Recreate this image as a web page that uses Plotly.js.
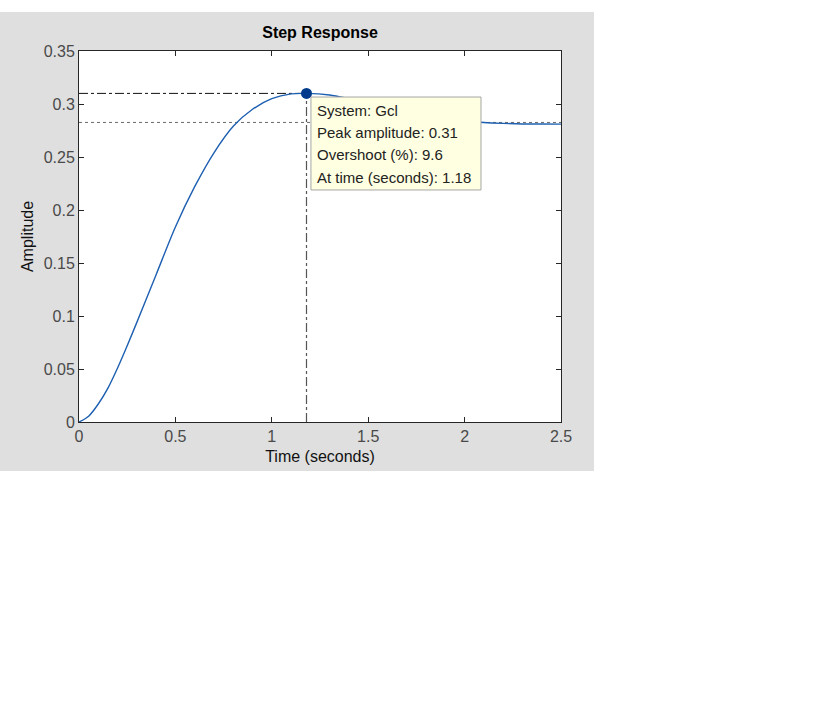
<!DOCTYPE html>
<html>
<head>
<meta charset="utf-8">
<script src="https://cdn.plot.ly/plotly-3.0.1.min.js"></script>
<style>
  html, body { margin: 0; padding: 0; background: #ffffff; }
  #figbg { position: absolute; left: 0; top: 12px; width: 594px; height: 459px; background: #dfdfdf; }
  #chart { position: absolute; left: 0; top: 0; width: 825px; height: 718px; }
</style>
</head>
<body>
<div id="figbg"></div>
<div id="chart"></div>
<script>
// step response
const timeSec = [0, 0.05, 0.1, 0.15, 0.2, 0.25, 0.3, 0.4, 0.5, 0.6, 0.7, 0.8, 0.9, 1.0, 1.1, 1.18,
                 1.3, 1.4, 1.5, 1.6, 1.7, 1.8, 1.9, 2.0, 2.1, 2.2, 2.3, 2.4, 2.5];
const amplitude = [0, 0.0055, 0.017, 0.032, 0.051, 0.072, 0.094, 0.139, 0.184, 0.222, 0.254, 0.279, 0.295, 0.305, 0.3095, 0.310,
                   0.3085, 0.305, 0.301, 0.2965, 0.2925, 0.289, 0.2862, 0.284, 0.2825, 0.2817, 0.2812, 0.2811, 0.2810];

const peakTime = 1.18;
const peakAmp = 0.31;
const finalValue = 0.2826;
const xRange = [0, 2.5];

const tipLines = ['System: Gcl', 'Peak amplitude: 0.31', 'Overshoot (%): 9.6', 'At time (seconds): 1.18'];

const FONT = 'Arial, "Liberation Sans", sans-serif';

const Chart = {
    axis(overrides = {}) {
        return Object.assign({
            showgrid: false,
            zeroline: false,
            showline: true,
            linecolor: '#262626',
            linewidth: 1,
            mirror: 'ticks',
            ticks: 'inside',
            ticklen: 5,
            tickcolor: '#262626',
            tickfont: { family: FONT, size: 16, color: '#4a4a4a' },
        }, overrides);
    },

    traces() {
        return [
            // settling value (dotted)
            { x: xRange, y: [finalValue, finalValue], mode: 'lines',
              line: { color: '#6a6a6a', width: 1, dash: 'dot' }, hoverinfo: 'skip' },
            // peak guides
            { x: [xRange[0], peakTime], y: [peakAmp, peakAmp], mode: 'lines',
              line: { color: '#111111', width: 1, dash: 'dashdot' }, hoverinfo: 'skip' },
            { x: [peakTime, peakTime], y: [0, peakAmp], mode: 'lines',
              line: { color: '#555555', width: 1.2, dash: 'dashdot' }, hoverinfo: 'skip' },
            // response
            { x: timeSec, y: amplitude, mode: 'lines', line: { color: '#1d5fb0', width: 1.4, shape: 'spline', smoothing: 0.8 } },
            // peak marker
            { x: [peakTime], y: [peakAmp], mode: 'markers',
              marker: { color: '#003a8c', size: 11 } },
        ];
    },

    layout() {
        const tipX0 = 1.203, tipX1 = 2.085, tipTop = 0.3066, tipBottom = 0.2189;
        const lineY = [0.2943, 0.2733, 0.2519, 0.2307];
        return {
            width: 825,
            height: 718,
            paper_bgcolor: 'rgba(0,0,0,0)',
            plot_bgcolor: '#ffffff',
            showlegend: false,
            margin: { l: 79, r: 264, t: 51, b: 296 },
            title: {
                text: '<b>Step Response</b>',
                font: { family: FONT, size: 16, color: '#000000' },
                x: 0.5, xref: 'paper', xanchor: 'center',
                y: 1 - 32 / 718, yref: 'container', yanchor: 'middle',
            },
            xaxis: this.axis({
                range: xRange,
                tickvals: [0, 0.5, 1, 1.5, 2, 2.5],
                ticktext: ['0', '0.5', '1', '1.5', '2', '2.5'],
                title: { text: 'Time (seconds)', font: { family: FONT, size: 16, color: '#111111' }, standoff: 6 },
            }),
            yaxis: this.axis({
                range: [0, 0.35],
                tickvals: [0, 0.05, 0.1, 0.15, 0.2, 0.25, 0.3, 0.35],
                ticktext: ['0', '0.05', '0.1', '0.15', '0.2', '0.25', '0.3', '0.35'],
                title: { text: 'Amplitude', font: { family: FONT, size: 16, color: '#111111' }, standoff: 6 },
            }),
            shapes: [{
                type: 'rect', xref: 'x', yref: 'y', layer: 'above',
                x0: tipX0, x1: tipX1, y0: tipBottom, y1: tipTop,
                fillcolor: '#ffffe1', line: { color: '#a6a6a6', width: 1 },
            }],
            annotations: tipLines.map((t, i) => ({
                text: t, x: tipX0, y: lineY[i], xref: 'x', yref: 'y',
                xanchor: 'left', yanchor: 'middle', xshift: 4, showarrow: false,
                font: { family: FONT, size: 15, color: '#222222' },
            })),
        };
    },

    render(container) {
        Plotly.newPlot(container, this.traces(), this.layout(), { displayModeBar: false, staticPlot: true });
    },
};

Chart.render(document.getElementById('chart'));
</script>
</body>
</html>
